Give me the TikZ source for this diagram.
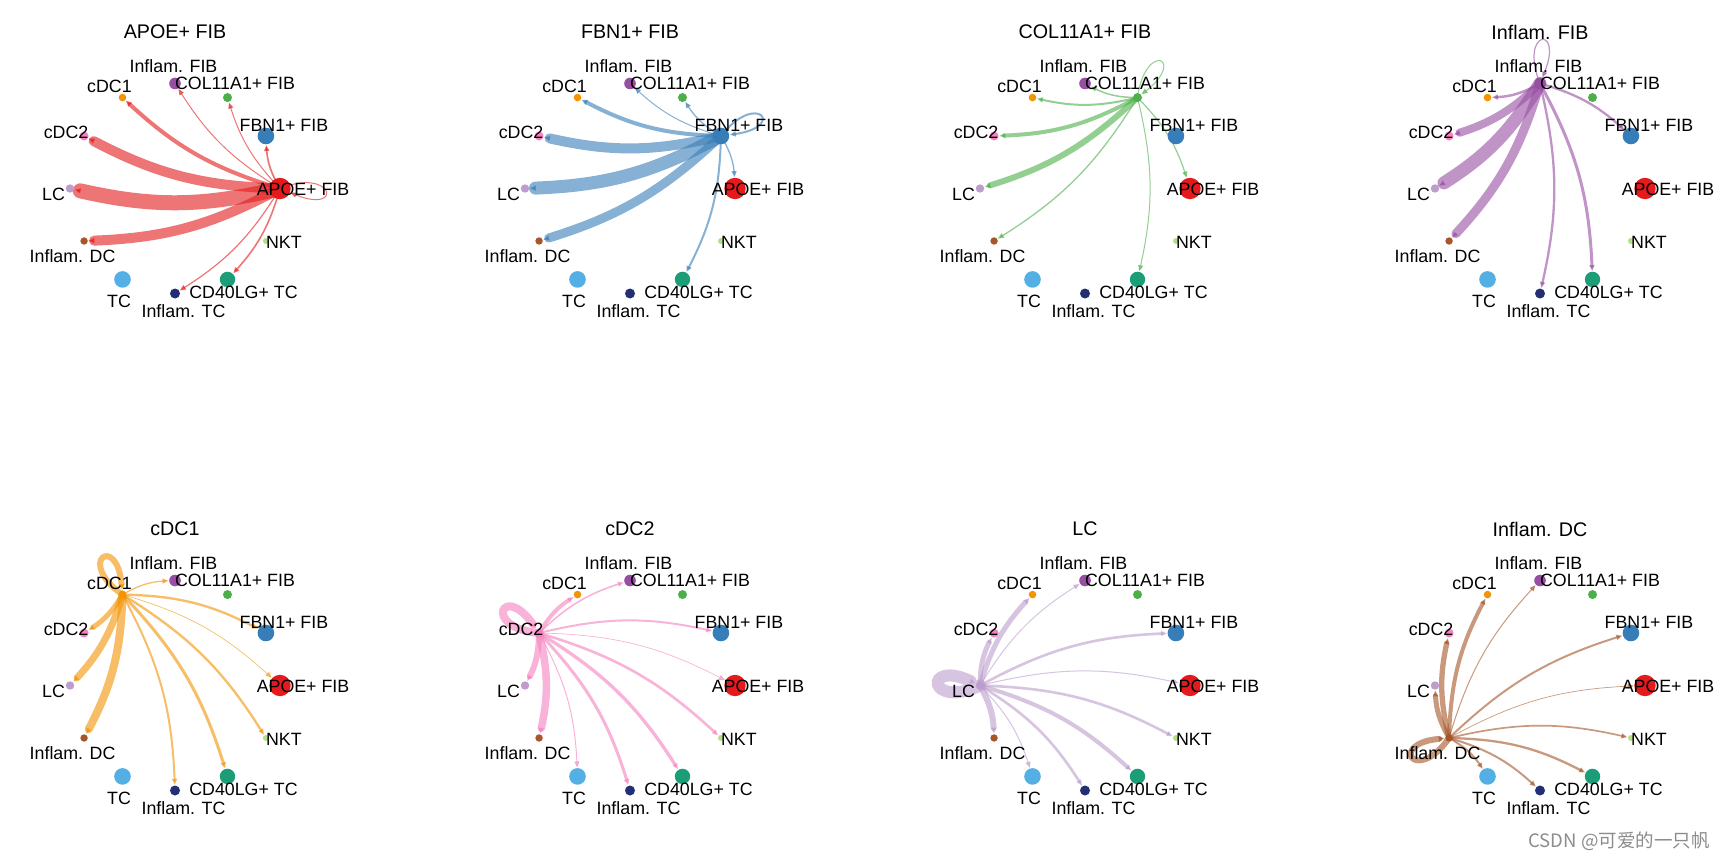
\documentclass[tikz,border=0pt]{standalone}
\usepackage{fontspec}
\setmainfont{Liberation Sans}
\newfontfamily\cjk{Noto Sans CJK SC}
\usetikzlibrary{arrows.meta}
\definecolor{cAPOE}{HTML}{E41A1C}
\definecolor{cFBN}{HTML}{377EB8}
\definecolor{cCOL}{HTML}{4DAF4A}
\definecolor{cIFIB}{HTML}{984EA3}
\definecolor{cDCa}{HTML}{F29403}
\definecolor{cDCb}{HTML}{F781BF}
\definecolor{cLC}{HTML}{BC9DCC}
\definecolor{cIDC}{HTML}{A65628}
\definecolor{cTC}{HTML}{54B0E4}
\definecolor{cITC}{HTML}{222F75}
\definecolor{cCD}{HTML}{1B9E77}
\definecolor{cNK}{HTML}{B2DF8A}
\pgfdeclarelayer{bglayer}
\pgfdeclarelayer{edgelayer}
\pgfdeclarelayer{labellayer}
\pgfsetlayers{bglayer,edgelayer,main,labellayer}
\tikzset{
  dot/.style={circle, inner sep=0pt, draw=none},
  lab/.style={font=\fontsize{17.8pt}{20pt}\selectfont, inner sep=0pt, text=black},
  ttl/.style={font=\fontsize{19.7pt}{22pt}\selectfont, inner sep=0pt, text=black},
  lnk/.style={draw=#1, opacity=0.6, line cap=round, -{Triangle[length=6pt,width=5pt]}, shorten >=0.5pt},
}
\newcommand\cellpanel[4]{%
  \node[ttl] (#1-title) at (#2,#3-156.5) {#4};
  \foreach \n/\ang/\rad/\col/\dx/\dy/\txt in {
    a/0/10.7/cAPOE/23/1/APOE+ FIB,
    f/30/8.3/cFBN/18/-10.5/FBN1+ FIB,
    c/60/4.5/cCOL/7.5/-14.5/COL11A1+ FIB,
    i/90/5.8/cIFIB/-1.5/-17/Inflam. FIB,
    d1/120/3.8/cDCa/-13/-11.5/cDC1,
    d2/150/4.5/cDCb/-18/-4/cDC2,
    lc/180/4.2/cLC/-16.5/6/LC,
    idc/210/3.7/cIDC/-11.5/15/Inflam. DC,
    tc/240/8.3/cTC/-3.5/21.5/TC,
    itc/270/5/cITC/8.5/17.5/Inflam. TC,
    cd/300/7.7/cCD/16/13/CD40LG+ TC,
    nk/330/3/cNK/18/1/NKT}{
    \node[dot, fill=\col, minimum size=2*\rad pt] (#1-\n) at ({#2+105*cos(\ang)},{#3-105*sin(\ang)}) {};
    \begin{pgfonlayer}{labellayer}
      \node[lab] (#1-\n-l) at ({#2+105*cos(\ang)+\dx},{#3-105*sin(\ang)+\dy}) {\txt};
    \end{pgfonlayer}
  }
}
% #1 panel, #2 source, #3 colour, #4 list target/width
\newcommand\links[4]{%
  \begin{pgfonlayer}{edgelayer}
  \foreach \tg/\w in {#4}{
    \draw[lnk=#3, line width=\w pt] (#1-#2.center) to[bend left=13] (#1-\tg);
  }
  \end{pgfonlayer}
}
% #1 panel, #2 node, #3 colour, #4 out angle, #5 in angle, #6 width
\newcommand\selfloop[6]{%
  \begin{pgfonlayer}{edgelayer}
  \draw[lnk=#3, line width=#6pt] (#1-#2.center) to[out=#4, in=#5, min distance=58pt] (#1-#2);
  \end{pgfonlayer}
}
\begin{document}
\begin{tikzpicture}[x=1pt,y=-1pt]
\begin{pgfonlayer}{bglayer}
\fill[white] (0,0) rectangle (1730,861);
\end{pgfonlayer}
\useasboundingbox (0,0) rectangle (1730,861);

\cellpanel{p1}{175}{188.5}{APOE+ FIB}
\cellpanel{p2}{630}{188.5}{FBN1+ FIB}
\cellpanel{p3}{1085}{188.5}{COL11A1+ FIB}
\cellpanel{p4}{1540}{188.5}{Inflam. FIB}
\cellpanel{p5}{175}{685.5}{cDC1}
\cellpanel{p6}{630}{685.5}{cDC2}
\cellpanel{p7}{1085}{685.5}{LC}
\cellpanel{p8}{1540}{685.5}{Inflam. DC}

\links{p1}{a}{cAPOE}{d1/4, i/1, c/1, f/1.7, d2/10, lc/15, idc/10, cd/1.6, itc/1.2}
\selfloop{p1}{a}{cAPOE}{22}{-22}{1}
\links{p2}{f}{cFBN}{d1/4, i/1, c/1.3, d2/10, lc/13, idc/9, a/1.3, cd/2}
\selfloop{p2}{f}{cFBN}{52}{8}{2}
\links{p3}{c}{cCOL}{i/1.5, d1/2, d2/4, lc/6, idc/1.3, a/1.2, cd/1}
\selfloop{p3}{c}{cCOL}{82}{38}{1}
\links{p4}{i}{cIFIB}{d1/2.5, d2/8, lc/13, idc/9, itc/2.3, cd/3, f/2.3}
\selfloop{p4}{i}{cIFIB}{112}{68}{1.2}
\links{p5}{d1}{cDCa}{i/1.3, f/2.3, a/0.7, nk/2.3, cd/3, itc/2, idc/8, lc/7, d2/5}
\selfloop{p5}{d1}{cDCa}{145}{95}{6}
\links{p6}{d2}{cDCb}{d1/4, i/1.6, f/2, a/0.7, nk/2.6, cd/3.3, itc/3, tc/1, idc/7.5, lc/6}
\selfloop{p6}{d2}{cDCb}{175}{125}{8}
\links{p7}{lc}{cLC}{d2/5, d1/5, i/1, f/2.6, a/1, nk/2.6, cd/4, itc/2.6, tc/1, idc/6}
\selfloop{p7}{lc}{cLC}{205}{155}{12}
\links{p8}{idc}{cIDC}{lc/5, d2/5.3, d1/4, i/1, f/2, a/0.7, nk/1.7, cd/2.3, itc/2, tc/2}
\selfloop{p8}{idc}{cIDC}{235}{185}{6}

\node[text=black!45, font=\cjk\fontsize{18.5pt}{20pt}\selectfont, inner sep=0pt] (wm) at (1619,841) {CSDN @可爱的一只帆};
\end{tikzpicture}
\end{document}
